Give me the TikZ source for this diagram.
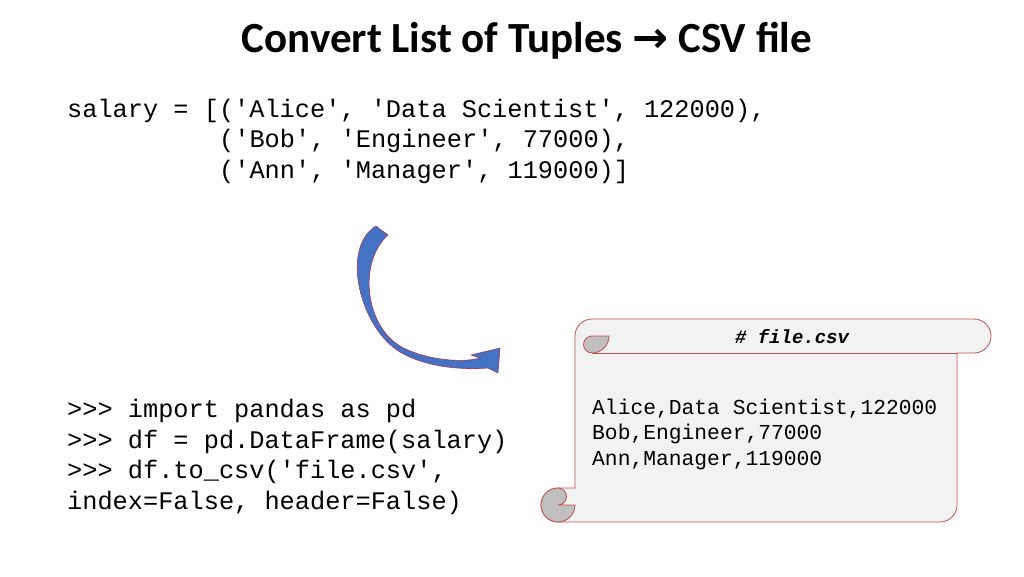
\documentclass[tikz,border=0pt]{standalone}
\usepackage{fontspec}
\setmainfont{Carlito}
\setmonofont{Liberation Mono}
\newfontfamily\arrowfont{DejaVu Sans}
\definecolor{scrollred}{RGB}{192,80,77}
\definecolor{scrollfill}{RGB}{242,242,242}
\definecolor{curlgray}{RGB}{191,191,191}
\definecolor{arrowblue}{RGB}{68,114,196}
\definecolor{arrowedge}{RGB}{160,60,90}
\begin{document}
\begin{tikzpicture}[x=1pt,y=-1pt]
	\tikzstyle{title} = [inner sep=0pt, anchor=base, font=\fontsize{43}{48}\selectfont\bfseries]
	\tikzstyle{code} = [inner sep=0pt, anchor=base west, font=\fontsize{25.3}{31}\selectfont\ttfamily]
	\tikzstyle{data} = [inner sep=0pt, anchor=base west, font=\fontsize{21.3}{26}\selectfont\ttfamily]
	\tikzstyle{head} = [inner sep=0pt, anchor=base, font=\fontsize{19}{22}\selectfont\ttfamily\bfseries\itshape]
	\tikzstyle{scroll} = [draw=scrollred, line width=0.8pt, fill=scrollfill]
	\tikzstyle{curl} = [draw=scrollred, line width=0.8pt, fill=curlgray]
	\useasboundingbox (0,0) rectangle (1024,576);

	\node (title) [title] at (527,52) {Convert List of Tuples {\arrowfont\bfseries →} CSV file};

	% list of tuples
	\node (list1) [code] at (67,117) {salary = [('Alice', 'Data Scientist', 122000),};
	\node (list2) [code] at (219,147.5) {('Bob', 'Engineer', 77000),};
	\node (list3) [code] at (219,178) {('Ann', 'Manager', 119000)]};

	% pandas code
	\node (py1) [code] at (67,417) {>>> import pandas as pd};
	\node (py2) [code] at (67,448) {>>> df = pd.DataFrame(salary)};
	\node (py3) [code] at (67,478) {>>> df.to\_csv('file.csv',};
	\node (py4) [code] at (67,509) {index=False, header=False)};

	% scroll
	\draw[scroll] (575,488) -- (575,336) arc[start angle=180, end angle=270, radius=17]
		-- (974,319) arc[start angle=270, end angle=450, radius=17]
		-- (957,353) -- (957,505) arc[start angle=0, end angle=90, radius=17]
		-- (558,522) arc[start angle=90, end angle=270, radius=17] -- cycle;
	\draw[curl] (609,336) -- (592,336) arc[start angle=270, end angle=90, radius=8.5]
		arc[start angle=90, end angle=0, radius=17] -- cycle;
	\draw[curl] (558,488) arc[start angle=270, end angle=0, radius=17]
		-- (558,505) arc[start angle=90, end angle=-90, radius=8.5] -- cycle;
	\draw[draw=scrollred, line width=0.8pt] (592,353) -- (957,353);

	\node (file) [head] at (792,343) {\# file.csv};
	\node (row1) [data] at (592,414) {Alice,Data Scientist,122000};
	\node (row2) [data] at (592,439.5) {Bob,Engineer,77000};
	\node (row3) [data] at (592,465) {Ann,Manager,119000};

	% curved arrow
	\draw[fill=arrowblue, draw=arrowedge, line width=0.6pt]
		(376,226) .. controls (340,248) and (360,328) .. (400,352)
		.. controls (425,367) and (460,370) .. (488,368)
		-- (498,373) -- (500,348) -- (471,355) -- (480,358)
		.. controls (458,364) and (420,358) .. (400,346)
		.. controls (365,325) and (358,262) .. (388,235) -- cycle;
\end{tikzpicture}
\end{document}
